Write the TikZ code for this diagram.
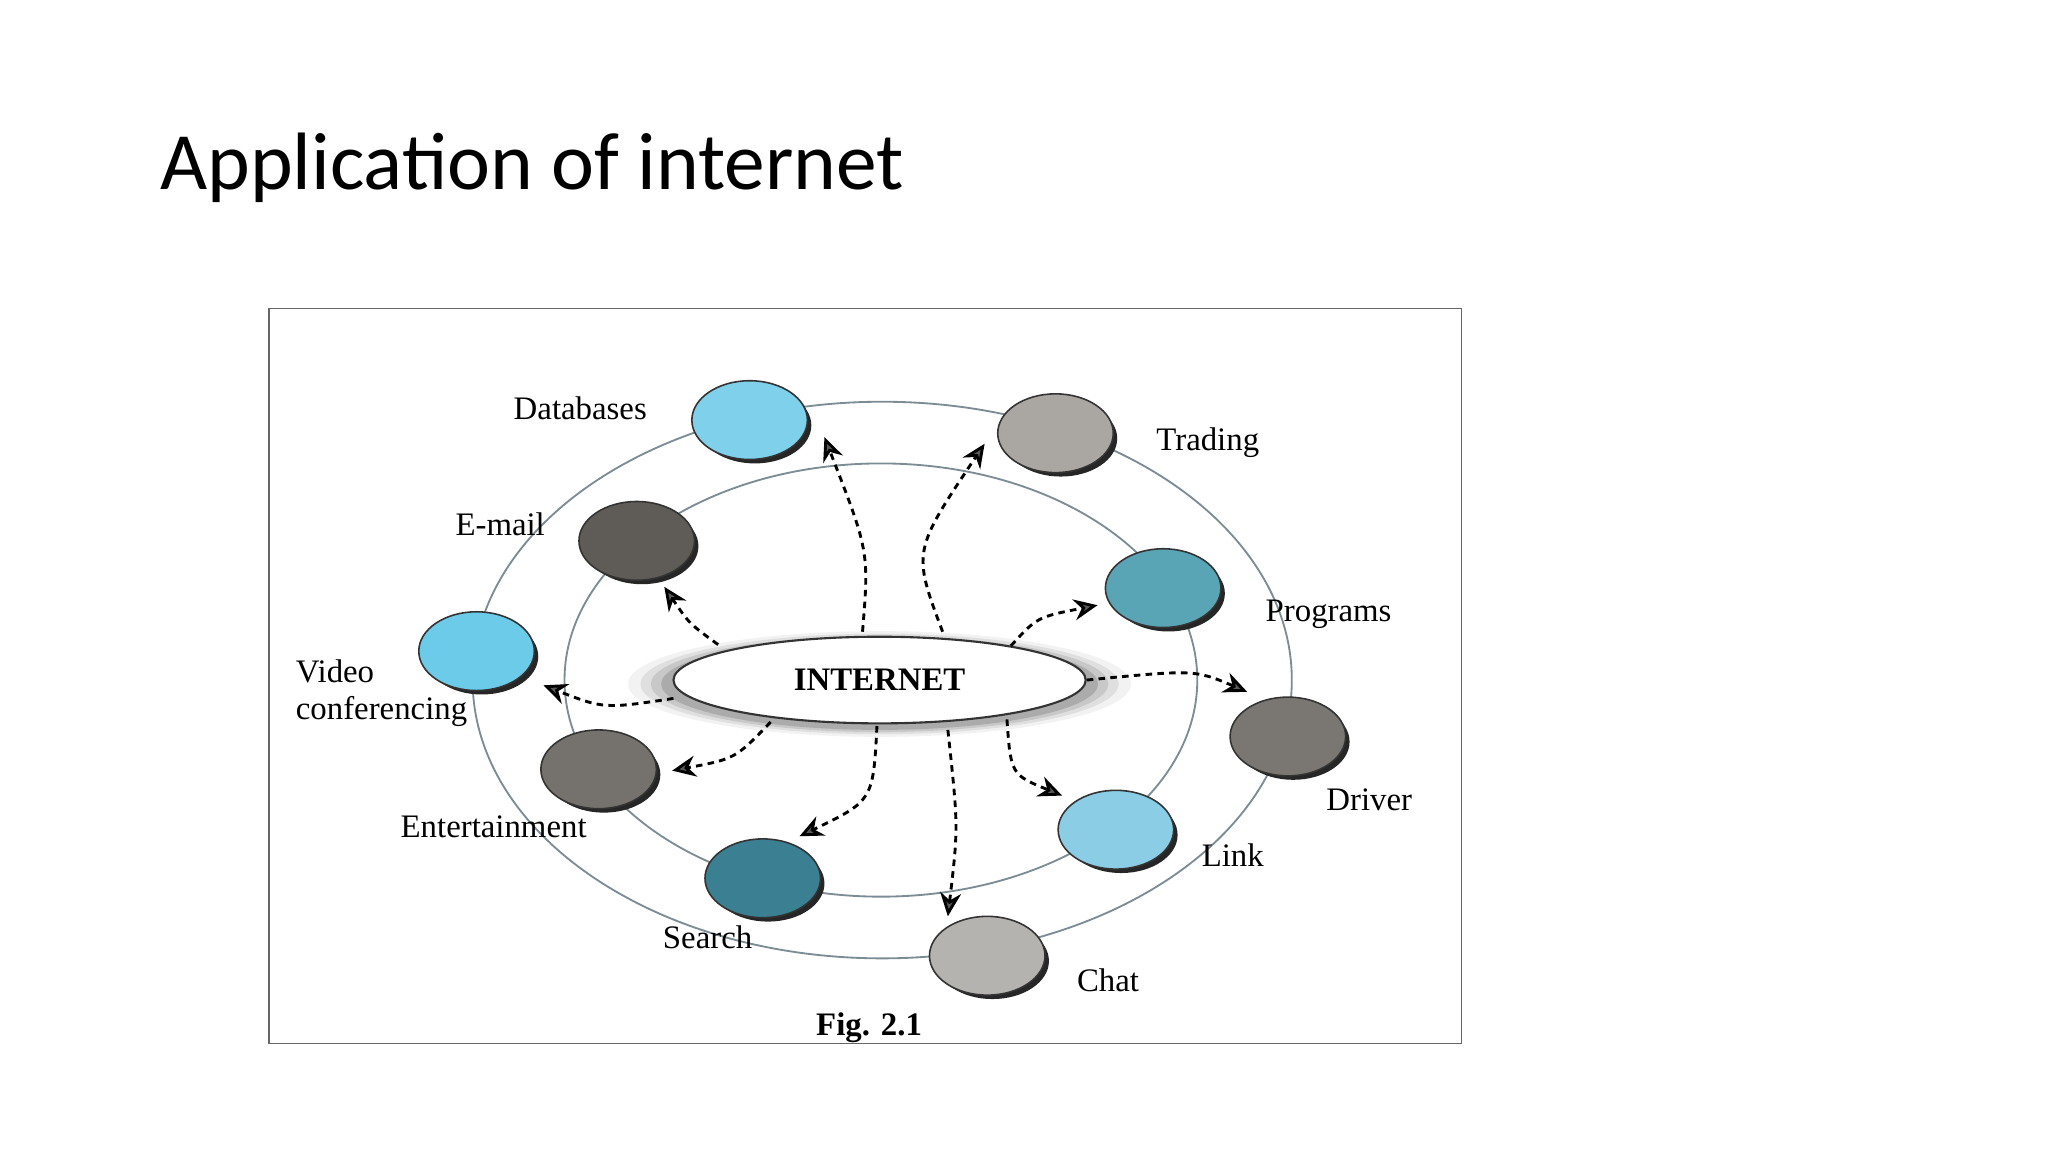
\documentclass[tikz,border=0pt]{standalone}
\usepackage{fontspec}
\setmainfont{Liberation Serif}
\newfontfamily\titlefont{Carlito}
\usetikzlibrary{arrows.meta}
\definecolor{lb}{HTML}{7FD0EA}
\definecolor{lb2}{HTML}{6CCBE8}
\definecolor{lb3}{HTML}{8CCDE6}
\definecolor{gr1}{HTML}{AAA6A2}
\definecolor{gr2}{HTML}{5F5C58}
\definecolor{gr3}{HTML}{7A7773}
\definecolor{gr4}{HTML}{75726E}
\definecolor{gr5}{HTML}{B5B3B0}
\definecolor{tl1}{HTML}{5AA5B5}
\definecolor{tl2}{HTML}{3A7F92}
\definecolor{ring}{HTML}{7C8C94}
\tikzset{
  app/.style={ellipse,minimum width=44pt,minimum height=30pt,draw=black!80,line width=0.6pt,inner sep=0pt},
  shade0/.style={fill=black!85},
  lbl/.style={font=\fontsize{12.5}{14}\selectfont,inner sep=1pt},
  conn/.style={dashed,line width=1.1pt,dash pattern=on 2.5pt off 2pt,-{Stealth[length=9pt,width=8pt,fill=black!65]}},
}
\usetikzlibrary{shapes.geometric}
\begin{document}
\begin{tikzpicture}[x=0.5pt,y=-0.5pt]
\useasboundingbox (0,0) rectangle (1560,878);
\fill[white] (0,0) rectangle (1560,878);
\node[anchor=west,font=\titlefont\fontsize{31}{36}\selectfont] (title) at (115,128) {Application of internet};
\draw[black!60,line width=0.5pt] (205,235) rectangle (1113,795);
% rings
\draw[ring,line width=0.7pt] (672,518) ellipse [x radius=312, y radius=212];
\draw[ring,line width=0.7pt] (671,518) ellipse [x radius=241, y radius=165];
% glow
\foreach \r/\o in {1.22/0.05,1.16/0.08,1.11/0.1,1.06/0.14}
  \fill[black,opacity=\o] (670,521) ellipse [x radius=157*\r, y radius=33*\r];
\node[ellipse,draw=black!80,fill=white,line width=0.8pt,minimum width=157pt,minimum height=33pt,font=\bfseries\fontsize{12.5}{14}\selectfont] (net) at (670,518) {INTERNET};
% application circles
\foreach \n/\x/\y/\c in {db/571/320/lb,tr/804/330/gr1,em/485/412/gr2,pr/886/448/tl1,vc/363/496/lb2,dr/981/561/gr3,en/456/586/gr4,lk/850/632/lb3,se/581/669/tl2,ch/752/728/gr5}{
  \fill[black!85] (\x+4,\y+4) ellipse [x radius=43, y radius=29];
  \node[app,fill=\c] (\n) at (\x,\y) {};
}
% labels
\node[lbl] (ldb) at (442,311) {Databases};
\node[lbl] (ltr) at (920,337) {Trading};
\node[lbl] (lem) at (381,399) {E-mail};
\node[lbl] (lpr) at (1012,468) {Programs};
\node[lbl,anchor=west,align=left] (lvc) at (223,528) {Video\\conferencing};
\node[lbl] (ldr) at (1043,609) {Driver};
\node[lbl] (len) at (376,630) {Entertainment};
\node[lbl] (llk) at (939,651) {Link};
\node[lbl] (lse) at (539,714) {Search};
\node[lbl] (lch) at (844,747) {Chat};
\node[lbl,font=\bfseries\fontsize{12.5}{14}\selectfont] (fig) at (662,783) {Fig. 2.1};
% connectors
\coordinate (tdb) at (628,333); \coordinate (ttr) at (750,338);
\coordinate (tem) at (506,447); \coordinate (tpr) at (836,461);
\coordinate (tdr) at (950,527); \coordinate (tvc) at (414,522);
\coordinate (ten) at (512,587); \coordinate (tlk) at (809,606);
\coordinate (tse) at (609,637); \coordinate (tch) at (722,698);
\draw[conn] (net.north)++(-13,-3) .. controls (662,420) .. (tdb);
\draw[conn] (net.north)++(48,-3) .. controls (695,420) .. (ttr);
\draw[conn] (547,491) .. controls (525,475) .. (tem);
\draw[conn] (770,492) .. controls (790,470) .. (tpr);
\draw[conn] (net.east) .. controls (910,510) .. (tdr);
\draw[conn] (513,532) .. controls (460,540) .. (tvc);
\draw[conn] (587,550) .. controls (560,578) .. (ten);
\draw[conn] (767,548) .. controls (770,590) .. (tlk);
\draw[conn] (668,553) .. controls (665,610) .. (tse);
\draw[conn] (722,556) .. controls (730,630) .. (tch);
\end{tikzpicture}
\end{document}
